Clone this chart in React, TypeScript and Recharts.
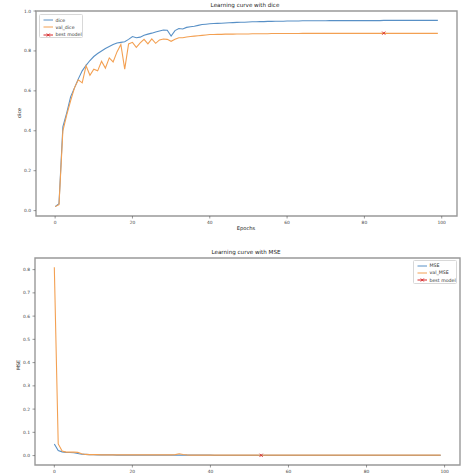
import React from 'react';
import { ComposedChart, Line, Scatter, XAxis, YAxis, ReferenceArea } from 'recharts';

const epochs: number[] = Array.from({ length: 100 }, (_, i) => i);

const dice: number[] = [
  0.020, 0.035, 0.420, 0.490, 0.570, 0.615, 0.660, 0.700, 0.728, 0.752,
  0.772, 0.787, 0.800, 0.812, 0.822, 0.832, 0.840, 0.843, 0.846, 0.858,
  0.872, 0.866, 0.869, 0.879, 0.884, 0.889, 0.895, 0.900, 0.905, 0.904,
  0.875, 0.902, 0.912, 0.910, 0.918, 0.921, 0.924, 0.928, 0.932, 0.934,
  0.936, 0.937, 0.938, 0.939, 0.940, 0.941, 0.942, 0.943, 0.944, 0.944,
  0.945, 0.946, 0.946, 0.947, 0.947, 0.948, 0.948, 0.949, 0.949, 0.949,
  0.950, 0.950, 0.950, 0.950, 0.951, 0.951, 0.951, 0.951, 0.951, 0.951,
  0.951, 0.952, 0.952, 0.952, 0.952, 0.952, 0.952, 0.952, 0.952, 0.952,
  0.952, 0.952, 0.952, 0.952, 0.952, 0.953, 0.953, 0.953, 0.953, 0.953,
  0.953, 0.953, 0.953, 0.953, 0.953, 0.953, 0.953, 0.953, 0.953, 0.953,
];

const valDice: number[] = [
  0.020, 0.030, 0.400, 0.480, 0.550, 0.615, 0.655, 0.640, 0.725, 0.678,
  0.708, 0.700, 0.748, 0.714, 0.765, 0.745, 0.795, 0.832, 0.709, 0.835,
  0.843, 0.818, 0.840, 0.858, 0.835, 0.860, 0.838, 0.855, 0.860, 0.858,
  0.848, 0.858, 0.866, 0.866, 0.870, 0.872, 0.874, 0.876, 0.878, 0.880,
  0.882, 0.882, 0.883, 0.883, 0.884, 0.884, 0.884, 0.885, 0.885, 0.885,
  0.885, 0.886, 0.886, 0.886, 0.886, 0.886, 0.887, 0.887, 0.887, 0.887,
  0.887, 0.887, 0.887, 0.887, 0.888, 0.888, 0.888, 0.888, 0.888, 0.888,
  0.888, 0.888, 0.888, 0.888, 0.888, 0.888, 0.888, 0.888, 0.888, 0.888,
  0.888, 0.888, 0.888, 0.888, 0.888, 0.889, 0.888, 0.888, 0.888, 0.888,
  0.888, 0.888, 0.888, 0.888, 0.888, 0.888, 0.888, 0.888, 0.888, 0.888,
];

const mse: number[] = [
  0.050, 0.022, 0.016, 0.014, 0.013, 0.012, 0.009, 0.006, 0.005, 0.004,
  0.004, 0.003, 0.003, 0.003, 0.003, 0.003, 0.002, 0.002, 0.002, 0.002,
  0.002, 0.002, 0.002, 0.002, 0.002, 0.002, 0.002, 0.002, 0.002, 0.002,
  0.002, 0.002, 0.002, 0.002, 0.002, 0.002, 0.002, 0.002, 0.002, 0.002,
  0.002, 0.001, 0.001, 0.001, 0.001, 0.001, 0.001, 0.001, 0.001, 0.001,
  0.001, 0.001, 0.001, 0.001, 0.001, 0.001, 0.001, 0.001, 0.001, 0.001,
  0.001, 0.001, 0.001, 0.001, 0.001, 0.001, 0.001, 0.001, 0.001, 0.001,
  0.001, 0.001, 0.001, 0.001, 0.001, 0.001, 0.001, 0.001, 0.001, 0.001,
  0.001, 0.001, 0.001, 0.001, 0.001, 0.001, 0.001, 0.001, 0.001, 0.001,
  0.001, 0.001, 0.001, 0.001, 0.001, 0.001, 0.001, 0.001, 0.001, 0.001,
];

const valMse: number[] = [
  0.810, 0.050, 0.020, 0.015, 0.015, 0.015, 0.014, 0.008, 0.005, 0.004,
  0.004, 0.004, 0.003, 0.003, 0.003, 0.003, 0.003, 0.003, 0.003, 0.003,
  0.003, 0.003, 0.003, 0.003, 0.003, 0.003, 0.003, 0.003, 0.003, 0.003,
  0.003, 0.004, 0.008, 0.005, 0.003, 0.002, 0.002, 0.002, 0.002, 0.002,
  0.002, 0.002, 0.002, 0.002, 0.002, 0.002, 0.002, 0.002, 0.002, 0.002,
  0.002, 0.002, 0.002, 0.0012, 0.002, 0.002, 0.002, 0.002, 0.002, 0.002,
  0.002, 0.002, 0.002, 0.002, 0.002, 0.002, 0.002, 0.002, 0.002, 0.002,
  0.002, 0.002, 0.002, 0.002, 0.002, 0.002, 0.002, 0.002, 0.002, 0.002,
  0.002, 0.002, 0.002, 0.002, 0.002, 0.002, 0.002, 0.002, 0.002, 0.002,
  0.002, 0.002, 0.002, 0.002, 0.002, 0.002, 0.002, 0.002, 0.002, 0.002,
];

const bestDice = [{ epoch: 85, value: 0.889 }];
const bestMse = [{ epoch: 53, value: 0.0012 }];

const xTicks: number[] = [0, 20, 40, 60, 80, 100];
const diceTicks: number[] = [0, 0.2, 0.4, 0.6, 0.8, 1.0];
const mseTicks: number[] = [0, 0.1, 0.2, 0.3, 0.4, 0.5, 0.6, 0.7, 0.8];

const xDomain: [number, number] = [-4.95, 103.95];
const diceDomain: [number, number] = [-0.027, 1.0];
const mseDomain: [number, number] = [-0.0405, 0.85];

const diceTable = epochs.map((e, i) => ({ epoch: e, dice: dice[i], val_dice: valDice[i] }));
const mseTable = epochs.map((e, i) => ({ epoch: e, MSE: mse[i], val_MSE: valMse[i] }));

const BLUE = '#5890c6';
const ORANGE = '#f3a052';
const RED = '#d62728';
const FRAME = '#999999';
const FONT = 'DejaVu Sans, sans-serif';

const tickStyle = { fontSize: 4.4, fill: '#444', fontFamily: FONT };

const XMark = (props: any) => {
  const { cx, cy } = props;
  if (cx == null || cy == null) return <g />;
  const s = 1.6;
  return (
    <path
      d={`M${cx - s},${cy - s}L${cx + s},${cy + s}M${cx - s},${cy + s}L${cx + s},${cy - s}`}
      stroke={RED}
      strokeWidth={0.9}
      fill="none"
    />
  );
};

const LegendBox = ({ items, left, top }: { items: { label: string; color: string; marker?: boolean }[]; left: number; top: number }) => (
  <div
    style={{
      position: 'absolute',
      left,
      top,
      width: 44,
      height: 24,
      border: '0.6px solid #d8d8d8',
      borderRadius: 1.5,
      background: 'rgba(255,255,255,0.85)',
      boxSizing: 'border-box',
    }}
  >
    {items.map((it, i) => (
      <div key={it.label} style={{ position: 'absolute', left: 2.5, top: 1.5 + i * 7.3, height: 7, display: 'flex', alignItems: 'center' }}>
        <svg width={11} height={6} style={{ display: 'block' }}>
          <line x1={0.5} y1={3} x2={10} y2={3} stroke={it.color} strokeWidth={1} />
          {it.marker && <path d="M3.8,1.5L6.8,4.5M3.8,4.5L6.8,1.5" stroke={it.color} strokeWidth={1} />}
        </svg>
        <span style={{ fontFamily: FONT, fontSize: 4.7, color: '#333', marginLeft: 2, lineHeight: '7px', whiteSpace: 'nowrap' }}>{it.label}</span>
      </div>
    ))}
  </div>
);

const Txt = ({ x, y, text, size, rotate }: { x: number; y: number; text: string; size: number; rotate?: boolean }) => (
  <div style={{ position: 'absolute', left: x, top: y, width: 0, height: 0 }}>
    <div
      style={{
        position: 'absolute',
        left: 0,
        top: 0,
        transform: `translate(-50%, -50%)${rotate ? ' rotate(-90deg)' : ''}`,
        fontFamily: FONT,
        fontSize: size,
        color: '#222',
        whiteSpace: 'nowrap',
        lineHeight: 1,
      }}
    >
      {text}
    </div>
  </div>
);

export default function App() {
  return (
    <div style={{ position: 'absolute', left: 0, top: 0, width: 474, height: 474, background: '#fff', overflow: 'hidden' }}>
      <div style={{ position: 'absolute', left: 0, top: 0 }}>
        <ComposedChart width={474} height={237} data={diceTable} margin={{ top: 11, right: 17, bottom: 9, left: 6 }}>
          <XAxis
            dataKey="epoch"
            type="number"
            domain={xDomain}
            ticks={xTicks}
            allowDataOverflow
            axisLine={false}
            tickLine={{ stroke: '#555', strokeWidth: 0.6 }}
            tickSize={2.5}
            tickMargin={2}
            tick={tickStyle}
            height={12}
            interval={0}
          />
          <YAxis
            type="number"
            domain={diceDomain}
            ticks={diceTicks}
            allowDataOverflow
            axisLine={false}
            tickLine={{ stroke: '#555', strokeWidth: 0.6 }}
            tickSize={2.5}
            tickMargin={2.5}
            tick={tickStyle}
            tickFormatter={(v: number) => v.toFixed(1)}
            width={30}
            interval={0}
          />
          <Line type="linear" dataKey="dice" stroke={BLUE} strokeWidth={1.1} dot={false} activeDot={false} isAnimationActive={false} />
          <Line type="linear" dataKey="val_dice" stroke={ORANGE} strokeWidth={1.1} dot={false} activeDot={false} isAnimationActive={false} />
          <Scatter data={bestDice} dataKey="value" fill={RED} shape={XMark} isAnimationActive={false} />
          <ReferenceArea x1={xDomain[0]} x2={xDomain[1]} y1={diceDomain[0]} y2={diceDomain[1]} fill="none" stroke={FRAME} strokeWidth={1.4} ifOverflow="visible" />
        </ComposedChart>
      </div>
      <div style={{ position: 'absolute', left: 0, top: 237 }}>
        <ComposedChart width={474} height={237} data={mseTable} margin={{ top: 21, right: 14, bottom: 0, left: 5 }}>
          <XAxis
            dataKey="epoch"
            type="number"
            domain={xDomain}
            ticks={xTicks}
            allowDataOverflow
            axisLine={false}
            tickLine={{ stroke: '#555', strokeWidth: 0.6 }}
            tickSize={2.5}
            tickMargin={2}
            tick={tickStyle}
            height={9}
            interval={0}
          />
          <YAxis
            type="number"
            domain={mseDomain}
            ticks={mseTicks}
            allowDataOverflow
            axisLine={false}
            tickLine={{ stroke: '#555', strokeWidth: 0.6 }}
            tickSize={2.5}
            tickMargin={2.5}
            tick={tickStyle}
            tickFormatter={(v: number) => v.toFixed(1)}
            width={30}
            interval={0}
          />
          <Line type="linear" dataKey="MSE" stroke={BLUE} strokeWidth={1.1} dot={false} activeDot={false} isAnimationActive={false} />
          <Line type="linear" dataKey="val_MSE" stroke={ORANGE} strokeWidth={1.1} dot={false} activeDot={false} isAnimationActive={false} />
          <Scatter data={bestMse} dataKey="value" fill={RED} shape={XMark} isAnimationActive={false} />
          <ReferenceArea x1={xDomain[0]} x2={xDomain[1]} y1={mseDomain[0]} y2={mseDomain[1]} fill="none" stroke={FRAME} strokeWidth={1.4} ifOverflow="visible" />
        </ComposedChart>
      </div>

      <Txt x={245} y={6} text="Learning curve with dice" size={5.6} />
      <Txt x={246} y={228.5} text="Epochs" size={5.2} />
      <Txt x={20} y={113} text="dice" size={4.8} rotate />
      <Txt x={246} y={252.5} text="Learning curve with MSE" size={5.6} />
      <Txt x={19} y={365} text="MSE" size={4.8} rotate />

      <LegendBox
        left={39}
        top={14}
        items={[
          { label: 'dice', color: BLUE },
          { label: 'val_dice', color: ORANGE },
          { label: 'best model', color: RED, marker: true },
        ]}
      />
      <LegendBox
        left={413}
        top={259.5}
        items={[
          { label: 'MSE', color: BLUE },
          { label: 'val_MSE', color: ORANGE },
          { label: 'best model', color: RED, marker: true },
        ]}
      />
    </div>
  );
}
